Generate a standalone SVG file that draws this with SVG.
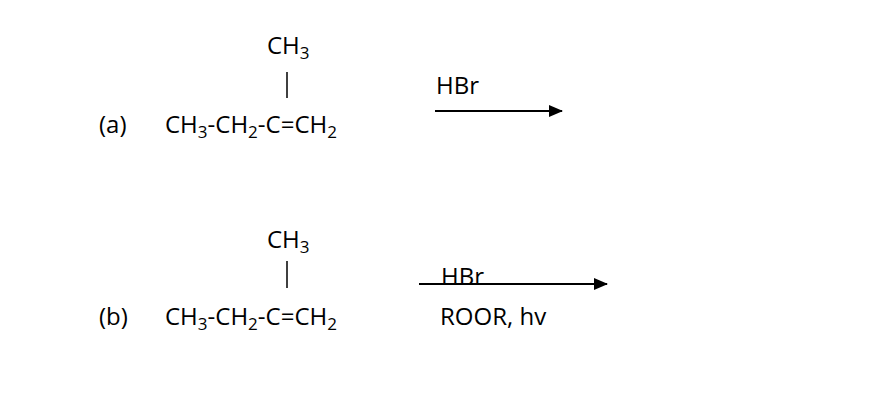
<svg xmlns="http://www.w3.org/2000/svg" width="872" height="400" viewBox="0 0 872 400">
<style>
text{font-family:"Open Sans","Liberation Sans",sans-serif;font-size:24px;fill:#000}
.s{font-size:17px}
line{stroke:#000;stroke-width:2}
</style>
<defs><marker id="ah" markerWidth="14" markerHeight="12" refX="13" refY="6" orient="auto" markerUnits="userSpaceOnUse"><path d="M0,0L14,6L0,12z" fill="#000"/></marker></defs>
<rect width="872" height="400" fill="#fff"/>
<g id="a">
<text x="267" y="54">CH<tspan class="s" dy="5">3</tspan></text>
<line x1="287" y1="72" x2="287" y2="98" style="stroke-width:1.5"/>
<text x="99" y="133">(a)</text>
<text x="165" y="133">CH<tspan class="s" dy="5">3</tspan><tspan dy="-5">-CH</tspan><tspan class="s" dy="5">2</tspan><tspan dy="-5">-C=CH</tspan><tspan class="s" dy="5">2</tspan></text>
<text x="436" y="94">HBr</text>
</g>
<g id="b">
<text x="267" y="248">CH<tspan class="s" dy="5">3</tspan></text>
<line x1="287" y1="261" x2="287" y2="288" style="stroke-width:1.5"/>
<text x="99" y="325">(b)</text>
<text x="165" y="325">CH<tspan class="s" dy="5">3</tspan><tspan dy="-5">-CH</tspan><tspan class="s" dy="5">2</tspan><tspan dy="-5">-C=CH</tspan><tspan class="s" dy="5">2</tspan></text>
<text x="441" y="285">HBr</text>
<text x="440" y="325">ROOR, hv</text>
</g>
<g id="connectors">
<line x1="435" y1="111" x2="562" y2="111" marker-end="url(#ah)"/>
<line x1="419" y1="284" x2="607" y2="284" marker-end="url(#ah)"/>
</g>
</svg>
